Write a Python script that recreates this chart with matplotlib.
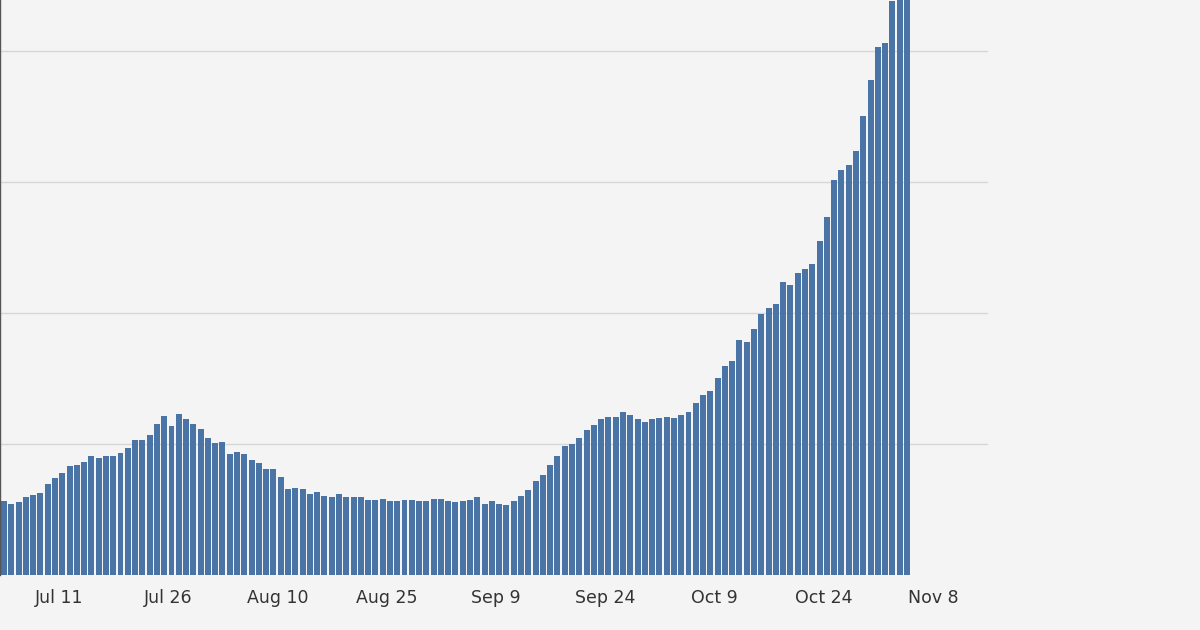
import datetime as dt
import matplotlib
matplotlib.use("Agg")
import matplotlib.pyplot as plt
import matplotlib.dates as mdates

# ---- data (gridlines assumed at 10k steps) ----
start_date = dt.date(2020, 7, 3)
values = [
    5650, 5440, 5550, 5930, 6130, 6240, 6950, 7380, 7810, 8300,
    8400, 8600, 9110, 8910, 9110, 9110, 9340, 9720, 10330, 10330,
    10660, 11500, 12120, 11370, 12290, 11890, 11500, 11170, 10460, 10050,
    10150, 9210, 9370, 9240, 8800, 8530, 8090, 8090, 7460, 6540,
    6660, 6570, 6180, 6360, 6050, 5930, 6160, 5930, 5930, 5930,
    5730, 5730, 5830, 5630, 5630, 5730, 5730, 5630, 5630, 5830,
    5830, 5650, 5550, 5650, 5750, 5930, 5440, 5650, 5440, 5340,
    5650, 6030, 6470, 7180, 7660, 8400, 9110, 9820, 10020, 10440,
    11050, 11450, 11890, 12080, 12080, 12420, 12190, 11890, 11680, 11890,
    11990, 12080, 11990, 12190, 12420, 13130, 13720, 14020, 15060, 15980,
    16300, 17940, 17810, 18760, 19950, 20380, 20690, 22340, 22120, 23030,
    23360, 23740, 25520, 27350, 30190, 30920, 31320, 32370, 35040, 37790,
    40330, 40630, 43820, 44500, 45420,
]
dates = [start_date + dt.timedelta(days=i) for i in range(len(values))]
tick_dates = [dt.date(2020, 7, 11) + dt.timedelta(days=15 * k) for k in range(9)]
tick_labels = [f"{d:%b} {d.day}" for d in tick_dates]
grid_values = [10000, 20000, 30000, 40000]

# ---- style ----
bg = "#f4f4f4"
bar_color = "#4a74a6"

fig = plt.figure(figsize=(12, 6.3), dpi=100, facecolor=bg)
ax = fig.add_axes([0.0, 55 / 630, 988 / 1200, 575 / 630])
ax.set_facecolor(bg)

x = [mdates.date2num(d) + 0.42 for d in dates]
ax.bar(x, values, width=0.82, color=bar_color, edgecolor="none", zorder=2)

ax.set_yticks(grid_values)
ax.yaxis.grid(True, color="#d6d6d6", linewidth=1.0, zorder=0)
ax.tick_params(axis="y", left=False, labelleft=False)

ax.set_xticks([mdates.date2num(d) for d in tick_dates])
ax.set_xticklabels(tick_labels, fontsize=12.5, color="#333333")
ax.tick_params(axis="x", length=0, pad=10)

x0 = mdates.date2num(start_date)
ax.set_xlim(x0 - 0.13, x0 + 135.55)
ax.set_ylim(0, 43893)

for s in ["top", "right", "bottom"]:
    ax.spines[s].set_visible(False)
ax.spines["left"].set_color("#555555")
ax.spines["left"].set_linewidth(1.0)

fig.savefig("out.png", dpi=100, facecolor=bg)
